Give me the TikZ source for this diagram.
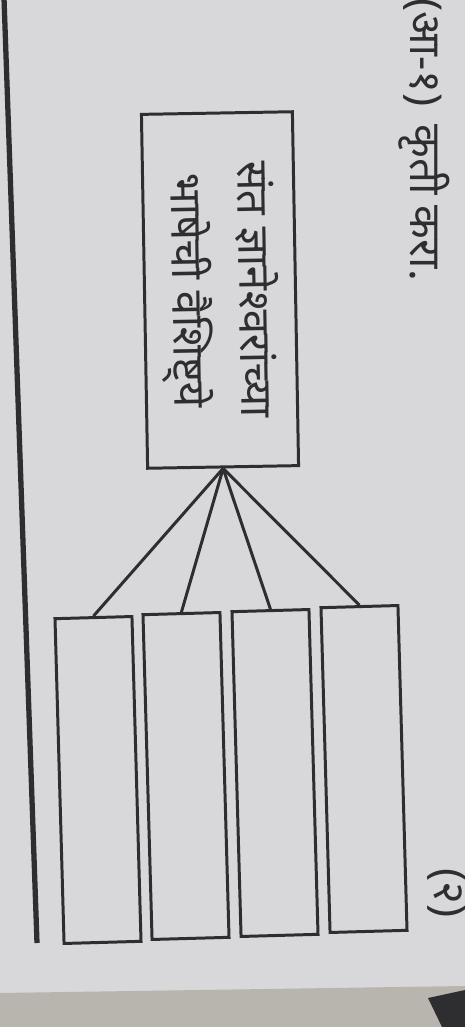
\documentclass[tikz,border=0pt]{standalone}
\usepackage{fontspec}
\newfontfamily\devfont[Script=Devanagari]{Noto Sans}
\usepackage{xcolor}

\definecolor{shai}{RGB}{46,46,48}
\definecolor{kagad}{RGB}{216,216,219}
\definecolor{kinar}{RGB}{184,180,174}

\begin{document}
\begin{tikzpicture}[x=0.02cm,y=-0.02cm,
		akshar/.style={text=shai,font=\devfont\fontsize{25}{38}\selectfont},
		mukhya/.style={akshar,draw=shai,line width=1.7pt,rotate=-89,minimum width=7.08cm,minimum height=3.02cm,align=center},
		rikame/.style={draw=shai,line width=1.7pt,rotate=1.6,minimum width=1.54cm,minimum height=6.5cm},
		fanta/.style={draw=shai,line width=1.7pt}]
			\useasboundingbox (0,0) rectangle (465,1027);
			\clip (0,0) rectangle (465,1027);
			\fill[kagad] (0,0) rectangle (465,1027);
			% paanachi khalchi kada
			\fill[kinar] (0,993) -- (465,986) -- (465,1027) -- (0,1027) -- cycle;
			\fill[shai] (428,998) -- (465,990) -- (465,1027) -- (442,1027) -- cycle;

			\coordinate (regha1) at (4,-2);
			\coordinate (regha2) at (37,943);
			\draw[shai,line width=3pt] (regha1) -- (regha2);

			\node[akshar,rotate=-90,anchor=east] (kruti) at (424,287) {(आ-१)\hspace{0.35cm}कृती करा.};
			\node[akshar,rotate=-90] (gun) at (447,893) {(२)};

			\node[mukhya] (vaishishtye) at (220,290) {संत ज्ञानेश्वरांच्या\\ भाषेची वैशिष्ट्ये};

			\node[rikame] (r1) at (98,780) {};
			\node[rikame] (r2) at (186,776) {};
			\node[rikame] (r3) at (275,773) {};
			\node[rikame] (r4) at (364,769) {};

			\foreach \r in {r1,r2,r3,r4}
			\draw[fanta] (vaishishtye.east) -- (\r.north);
		\end{tikzpicture}
\end{document}
